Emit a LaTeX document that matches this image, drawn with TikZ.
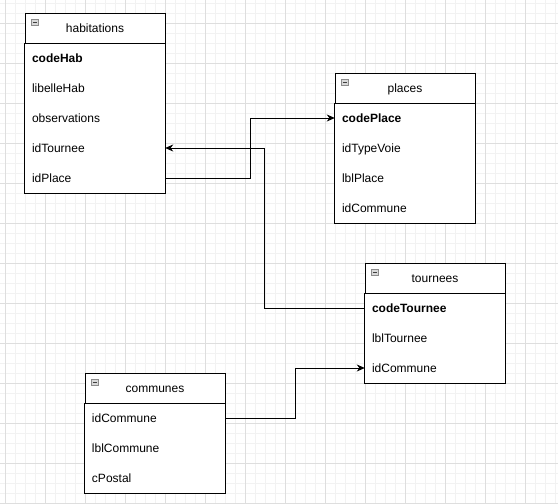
\documentclass[tikz,border=0pt]{standalone}
\usepackage{fontspec}
\setmainfont{Liberation Sans}
\usetikzlibrary{arrows.meta}

\begin{document}
\begin{tikzpicture}[x=1pt, y=-1pt, font=\fontsize{12}{14}\selectfont,
    minorline/.style={black!5, line width=1pt},
    majorline/.style={black!13, line width=1pt},
    tblhead/.style={draw, fill=white, line width=1pt, minimum width=140pt, minimum height=30pt,
        inner sep=0pt, text height=9pt, text depth=0pt},
    tblrow/.style={fill=white, minimum width=140pt, minimum height=30pt, text width=126pt, align=left,
        inner xsep=7pt, inner ysep=0pt, text height=9pt, text depth=0pt},
    keyrow/.style={tblrow, font=\fontsize{12}{14}\selectfont\bfseries},
    fold/.style={draw=black!45, fill=black!15, line width=.8pt},
    fk/.style={line width=1pt, -{Stealth[length=8pt, width=7pt, inset=2.5pt]}}]
    \useasboundingbox (0,0) rectangle (558,504);
    \fill[white] (0,0) rectangle (558,504);

    \foreach \x in {5,15,...,555} \draw[minorline] (\x,0) -- (\x,504);
    \foreach \y in {3,13,...,503} \draw[minorline] (0,\y) -- (558,\y);
    \foreach \x in {5,45,...,525} \draw[majorline] (\x,0) -- (\x,504);
    \foreach \y in {23,63,...,503} \draw[majorline] (0,\y) -- (558,\y);

    \node[tblhead] (hab) at (95,28) {habitations};
    \node[keyrow] (habCode) at (95,58) {codeHab};
    \node[tblrow] (habLibelle) at (95,88) {libelleHab};
    \node[tblrow] (habObs) at (95,118) {observations};
    \node[tblrow] (habIdTournee) at (95,148) {idTournee};
    \node[tblrow] (habIdPlace) at (95,178) {idPlace};
    \draw[line width=1pt] (hab.south west) rectangle (habIdPlace.south east);

    \node[tblhead] (plc) at (405,88) {places};
    \node[keyrow] (plcCode) at (405,118) {codePlace};
    \node[tblrow] (plcTypeVoie) at (405,148) {idTypeVoie};
    \node[tblrow] (plcLbl) at (405,178) {lblPlace};
    \node[tblrow] (plcIdCom) at (405,208) {idCommune};
    \draw[line width=1pt] (plc.south west) rectangle (plcIdCom.south east);

    \node[tblhead] (trn) at (435,278) {tournees};
    \node[keyrow] (trnCode) at (435,308) {codeTournee};
    \node[tblrow] (trnLbl) at (435,338) {lblTournee};
    \node[tblrow] (trnIdCom) at (435,368) {idCommune};
    \draw[line width=1pt] (trn.south west) rectangle (trnIdCom.south east);

    \node[tblhead] (com) at (155,388) {communes};
    \node[tblrow] (comIdCom) at (155,418) {idCommune};
    \node[tblrow] (comLbl) at (155,448) {lblCommune};
    \node[tblrow] (comPostal) at (155,478) {cPostal};
    \draw[line width=1pt] (com.south west) rectangle (comPostal.south east);

    \foreach \t in {hab,plc,trn,com} {
        \draw[fold] ([shift={(7,6.5)}]\t.north west) rectangle ++(6.5,6.5);
        \draw[black!75, line width=.8pt] ([shift={(8.3,9.75)}]\t.north west) -- ++(3.9,0);
    }

    \draw[fk] (habIdPlace.east) -- ++(85,0) |- (plcCode.west);
    \draw[fk] (trnCode.west) -- ++(-100,0) |- (habIdTournee.east);
    \draw[fk] (comIdCom.east) -- ++(70,0) |- (trnIdCom.west);
\end{tikzpicture}
\end{document}
